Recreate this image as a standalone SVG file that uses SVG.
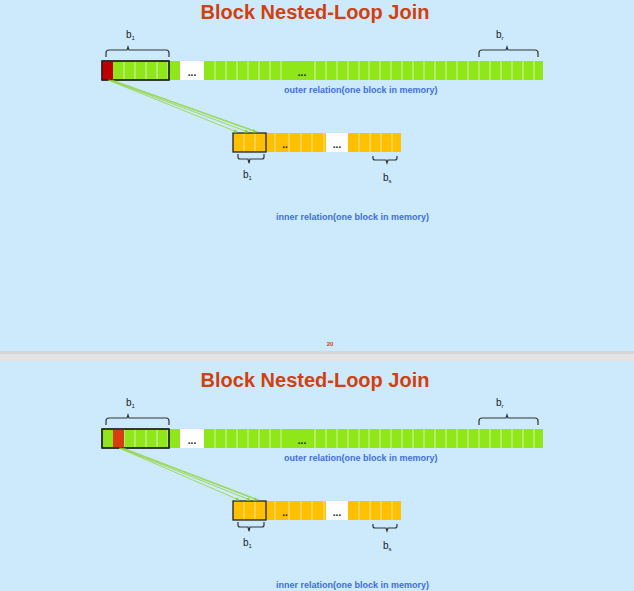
<svg xmlns="http://www.w3.org/2000/svg" xmlns:xlink="http://www.w3.org/1999/xlink" width="634" height="591" viewBox="0 0 634 591">
<style>
.bg{fill:#cdeafd}
.title{font-family:"Liberation Sans",Arial,sans-serif;font-weight:bold;font-size:20px;fill:#d2400e}
.cap{font-family:"Liberation Sans",Arial,sans-serif;font-weight:bold;font-size:9px;fill:#3d6ed6}
.lbl{font-family:"Liberation Sans",Arial,sans-serif;font-size:10px;fill:#222}
.sub{font-size:6px}
.dots{font-family:"Liberation Sans",Arial,sans-serif;font-weight:bold;font-size:10px;fill:#222}
.sep{stroke:#d4f3a8;stroke-width:1}
.sepo{stroke:#ffe59a;stroke-width:1}
.brace{fill:none;stroke:#333;stroke-width:1.2}
.box{fill:none;stroke:#222;stroke-width:1.3}
.ln{stroke:#8fd435;stroke-width:0.8;fill:none}
</style>
<defs>
<marker id="ah" markerWidth="5" markerHeight="5" refX="4" refY="2.5" orient="auto"><path d="M0,0L5,2.5L0,5z" fill="#8fd435"/></marker>
<g id="slide">
 <g id="title"><text class="title" x="315" y="19" text-anchor="middle">Block Nested-Loop Join</text></g>
 <g id="outer">
  <rect x="102" y="61" width="78" height="19" fill="#8fe619"/>
  <rect x="180" y="61" width="24" height="19" fill="#ffffff"/>
  <rect x="204" y="61" width="339" height="19" fill="#8fe619"/>
  <path class="sep" d="M124,61v19M135,61v19M146,61v19M157,61v19M168,61v19M215,61v19M226,61v19M237,61v19M248,61v19M259,61v19M270,61v19M281,61v19M315,61v19M326,61v19M337,61v19M348,61v19M359,61v19M369,61v19M380,61v19M391,61v19M402,61v19M413,61v19M424,61v19M435,61v19M446,61v19M457,61v19M468,61v19M479,61v19M490,61v19M501,61v19M512,61v19M523,61v19M534,61v19"/>
  <text class="dots" x="192" y="76" text-anchor="middle">...</text>
  <text class="dots" x="302" y="76" text-anchor="middle">...</text>
  <rect class="box" x="102" y="61" width="67" height="19"/>
  <path class="brace" d="M106,57v-4q0,-3 3,-3h18l1,-3l1,3h37q3,0 3,3v4"/>
  <text class="lbl" x="126" y="38">b<tspan class="sub" dy="2">1</tspan></text>
  <path class="brace" d="M479,57v-4q0,-3 3,-3h24l1,-3l1,3h27q3,0 3,3v4"/>
  <text class="lbl" x="496" y="38">b<tspan class="sub" dy="2">r</tspan></text>
  <text class="cap" x="284" y="93">outer relation(one block in memory)</text>
 </g>
 <g id="inner">
  <rect x="233" y="133" width="93" height="19" fill="#ffc000"/>
  <rect x="326" y="133" width="22" height="19" fill="#ffffff"/>
  <rect x="348" y="133" width="53" height="19" fill="#ffc000"/>
  <path class="sepo" d="M244,133v19M255,133v19M275,133v19M289,133v19M301,133v19M312,133v19M324,133v19M359,133v19M370,133v19M381,133v19M392,133v19"/>
  <text class="dots" x="285" y="148" text-anchor="middle">..</text>
  <text class="dots" x="337" y="148" text-anchor="middle">...</text>
  <rect class="box" x="233" y="133" width="33" height="19"/>
  <path class="brace" d="M238,154v3q0,2 2,2h8l1,4l1,-4h12q2,0 2,-2v-3"/>
  <text class="lbl" x="243" y="178">b<tspan class="sub" dy="2">1</tspan></text>
  <path class="brace" d="M373,156v2q0,2 2,2h11l1,3l1,-3h7q2,0 2,-2v-2"/>
  <text class="lbl" x="383" y="181">b<tspan class="sub" dy="2">s</tspan></text>
  <text class="cap" x="276" y="220">inner relation(one block in memory)</text>
 </g>
</g>
</defs>
<rect class="bg" x="0" y="0" width="634" height="591"/>
<g id="slide1">
 <use xlink:href="#slide"/>
 <rect x="102" y="61" width="11" height="19" fill="#c00000"/>
 <rect class="box" x="102" y="61" width="67" height="19"/>
</g>
<g id="connectors1">
 <path class="ln" d="M108,80L237,132" marker-end="url(#ah)"/>
 <path class="ln" d="M109,80L248,132" marker-end="url(#ah)"/>
 <path class="ln" d="M110,80L256,132" marker-end="url(#ah)"/>
 <path class="ln" d="M112,80L258,132"/>
</g>
<g id="pagenum"><text x="330" y="346" text-anchor="middle" style="font-family:'Liberation Sans',Arial,sans-serif;font-size:6px;font-weight:bold;fill:#d2400e">20</text></g>
<g id="divider">
 <rect x="0" y="351" width="634" height="10" fill="#e4e4e4"/>
 <rect x="0" y="351" width="634" height="3" fill="#d6d6d6"/>
</g>
<g id="slide2" transform="translate(0,368)">
 <use xlink:href="#slide"/>
 <rect x="113" y="61" width="11" height="19" fill="#d83c12"/>
 <rect class="box" x="102" y="61" width="67" height="19"/>
</g>
<g id="connectors2" transform="translate(0,368)">
 <path class="ln" d="M119,80L239,132" marker-end="url(#ah)"/>
 <path class="ln" d="M120,80L250,132" marker-end="url(#ah)"/>
 <path class="ln" d="M121,80L257,132" marker-end="url(#ah)"/>
 <path class="ln" d="M123,80L259,132"/>
</g>
</svg>
